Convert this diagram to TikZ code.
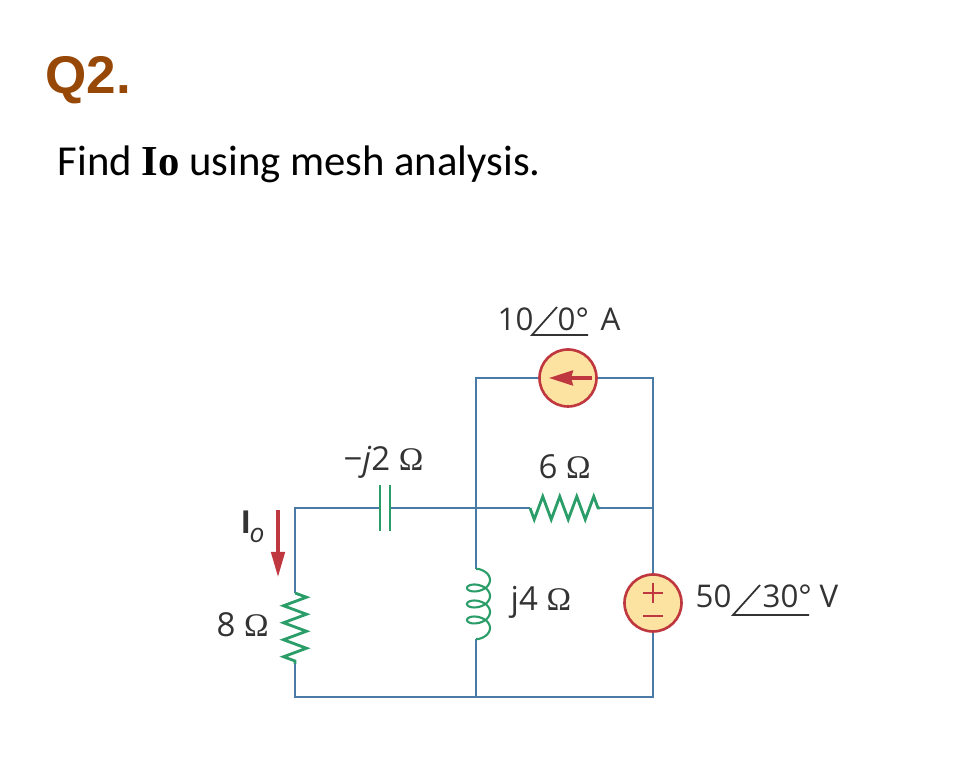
\documentclass[tikz,border=0pt]{standalone}
\usepackage{fontspec}
\setmainfont{Open Sans}
\newfontfamily\bodyfont{Carlito}
\newfontfamily\titlefont{Liberation Sans}
\newfontfamily\serifbold{Liberation Serif}
\usetikzlibrary{arrows.meta,decorations.pathmorphing}
\definecolor{wireblue}{HTML}{4A7BA6}
\definecolor{partgreen}{HTML}{2A9D68}
\definecolor{srcred}{HTML}{C0383F}
\definecolor{srcfill}{HTML}{FDE3A1}
\definecolor{labelgray}{HTML}{333333}
\definecolor{titlebrown}{HTML}{974706}
\begin{document}
\begin{tikzpicture}[xscale=1,yscale=1,
	wire/.style={draw=wireblue, line width=0.8pt},
	part/.style={draw=partgreen, line width=0.8pt},
	source/.style={circle, draw=srcred, fill=srcfill, line width=0.75pt, minimum size=5.7mm, inner sep=0pt},
	srcmark/.style={draw=srcred, line width=0.7pt},
	value/.style={anchor=base west, inner sep=0pt, text=labelgray, font=\fontsize{9.4}{11}\selectfont},
	phase/.style={value, font=\fontsize{8.9}{11}\selectfont},
	phasor/.style={draw=labelgray, line width=0.5pt},
	zigR/.style={part, decorate, decoration={zigzag, amplitude=1.15mm, segment length=1.7mm}},
	>=stealth]

	\useasboundingbox (0,0) rectangle (9.75,7.68);

	%Heading
	\node[anchor=base west, inner sep=0pt, text=titlebrown, font=\fontsize{15.1}{18}\selectfont\titlefont\bfseries] (title) at (0.45,6.74) {Q2.};
	\node[anchor=base west, inner sep=0pt, font=\fontsize{12.15}{14}\selectfont\bodyfont] (task) at (0.57,5.92) {Find {\serifbold\bfseries Io} using mesh analysis.};

	%Corners and part ends
	\coordinate (tm)  at (4.76,3.90);
	\coordinate (tr)  at (6.53,3.90);
	\coordinate (ml)  at (2.95,2.60);
	\coordinate (mr)  at (6.53,2.60);
	\coordinate (bl)  at (2.95,0.71);
	\coordinate (bm)  at (4.76,0.71);
	\coordinate (br)  at (6.53,0.71);
	\coordinate (capl) at (3.80,2.60);
	\coordinate (capr) at (3.90,2.60);
	\coordinate (r6l) at (5.30,2.60);
	\coordinate (r6r) at (6.00,2.60);
	\coordinate (r8t) at (2.95,1.75);
	\coordinate (r8b) at (2.95,1.04);
	\coordinate (ct)  at (4.76,1.99);
	\coordinate (cb)  at (4.76,1.29);
	\coordinate (iot) at (2.78,2.58);
	\coordinate (iob) at (2.78,1.91);

	%Sources
	\node[source] (isrc) at (5.68,3.90) {};
	\node[source] (vsrc) at (6.53,1.65) {};

	%Lines
	\draw[wire] (isrc) -- (tm) -- (ct);
	\draw[wire] (isrc) -- (tr) -- (vsrc);
	\draw[wire] (vsrc) -- (br) -- (bl) -- (r8b);
	\draw[wire] (r8t) -- (ml) -- (capl);
	\draw[wire] (capr) -- (r6l);
	\draw[wire] (r6r) -- (mr);
	\draw[wire] (cb) -- (bm);

	%Parts
	\draw[part] (capl) ++(0,0.23) -- ++(0,-0.46);
	\draw[part] (capr) ++(0,0.23) -- ++(0,-0.46);
	\draw[zigR, decoration={mirror}] (r6l) -- (r6r);
	\draw[zigR] (r8t) -- (r8b);
	\draw[part, line width=0.6pt] (ct) -- plot[domain=-90:1170, samples=140, smooth] ({4.785+0.115*cos(\x)}, {1.92-0.56*(\x+90)/1260-0.07*sin(\x)}) -- (cb);

	%Source marks
	\draw[srcmark, line width=0.9pt, -{Stealth[length=2.4mm, width=1.5mm, inset=0.2mm]}] (isrc.center) ++(0.24,0) -- ++(-0.43,0);
	\draw[srcmark] (vsrc.center) ++(-0.10,0.10) -- ++(0.20,0);
	\draw[srcmark] (vsrc.center) ++(0,0.20) -- ++(0,-0.20);
	\draw[srcmark] (vsrc.center) ++(-0.10,-0.13) -- ++(0.20,0);
	\draw[srcred, line width=0.9pt, -{Stealth[length=2.5mm, width=1.35mm, inset=0pt]}] (iot) -- (iob);

	%Labels
	\node[value] (cap)  at (3.43,2.97) {{\char"2212}\textit{j}2 {\serifbold\char"03A9}};
	\node[value] (six)  at (5.38,2.89) {6 {\serifbold\char"03A9}};
	\node[value] (ate)  at (2.16,1.31) {8 {\serifbold\char"03A9}};
	\node[value] (jfr)  at (5.10,1.57) {j4 {\serifbold\char"03A9}};
	\node[value, font=\fontsize{9}{10}\selectfont\bfseries] (io) at (2.40,2.34) {I};
	\node[value, font=\fontsize{7.5}{9}\selectfont\itshape] (iosub) at (2.49,2.25) {o};

	\node[phase] (ival) at (4.97,4.37) {10};
	\node[phase] (iang) at (5.57,4.37) {0°};
	\node[phase] (iuni) at (6.00,4.37) {A};
	\draw[phasor] (5.57,4.61) -- (5.32,4.33) -- (5.88,4.33);

	\node[phase] (vval) at (6.95,1.60) {50};
	\node[phase] (vang) at (7.62,1.60) {30°};
	\node[phase] (vuni) at (8.19,1.60) {V};
	\draw[phasor] (7.60,1.83) -- (7.33,1.53) -- (8.09,1.53);
\end{tikzpicture}
\end{document}
